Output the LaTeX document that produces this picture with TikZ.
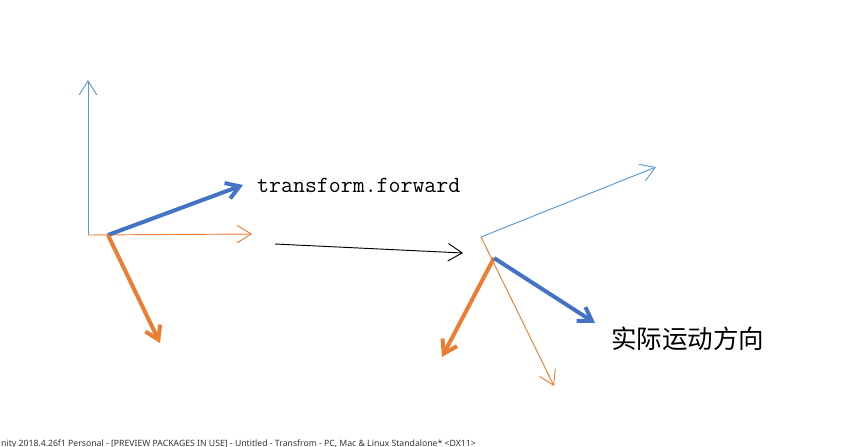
\documentclass[tikz,border=0pt]{standalone}
\usepackage{fontspec}
\newfontfamily\cjk{Noto Sans CJK SC}
\newfontfamily\barfont{Noto Sans}
\usetikzlibrary{arrows.meta}
\definecolor{lblue}{HTML}{5B9BD5}
\definecolor{dblue}{HTML}{4472C4}
\definecolor{orng}{HTML}{ED7D31}

\begin{document}
\begin{tikzpicture}[x=0.03cm, y=-0.03cm,
    axis/.style={line width=0.8pt, -{Straight Barb[length=12pt,width=15pt]}},
    vec/.style={line width=3.4pt, -{Straight Barb[length=11pt,width=14pt]}},
    lbl/.style={inner sep=0pt, anchor=base west},
  ]
\useasboundingbox (0,0) rectangle (863,447);
% Left frame
\coordinate (lo) at (88,235);
\coordinate (lup) at (88,80);
\coordinate (lright) at (252,234);
\coordinate (lv) at (108,235);
\coordinate (lfwd) at (243,185);
\coordinate (ldown) at (160,343);
% Right frame
\coordinate (ro) at (481,237);
\coordinate (rup) at (656,167);
\coordinate (rright) at (554,386);
\coordinate (rv) at (494,258);
\coordinate (rfwd) at (595,323);
\coordinate (rdown) at (442,357);
% Between
\coordinate (ms) at (275,244);
\coordinate (me) at (463,253);

\draw[axis, lblue] (lo) -- (lup);
\draw[axis, orng] (lo) -- (lright);
\draw[vec, dblue] (lv) -- (lfwd);
\draw[vec, orng] (lv) -- (ldown);

\draw[axis, black] (ms) -- (me);

\draw[axis, lblue] (ro) -- (rup);
\draw[axis, orng] (ro) -- (rright);
\draw[vec, orng] (rv) -- (rdown);
\draw[vec, dblue] (rv) -- (rfwd);

\node (fwd)[lbl, font=\ttfamily\fontsize{19.8}{19.8}\selectfont] at (257,192) {transform.forward};
\node (move)[lbl, font=\cjk\fontsize{21.8}{21.8}\selectfont] at (611,348) {实际运动方向};
\node (bar)[lbl, font=\barfont\fontsize{7.4}{7.4}\selectfont, text=black!80] at (1,446) {nity 2018.4.26f1 Personal - [PREVIEW PACKAGES IN USE] - Untitled - Transfrom - PC, Mac \& Linux Standalone* <DX11>};
\end{tikzpicture}
\end{document}
